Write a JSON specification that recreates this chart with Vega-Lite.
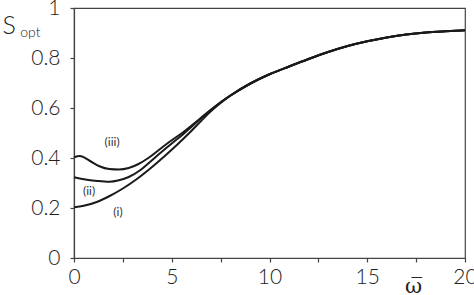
{
  "$schema": "https://vega.github.io/schema/vega-lite/v6.json",
  "width": 391,
  "height": 250,
  "autosize": "none",
  "padding": {"left": 74, "top": 8, "right": 9, "bottom": 37},
  "background": "white",
  "config": {
    "view": {"stroke": "#444", "strokeWidth": 1.2},
    "font": "Lato"
  },
  "data": {
    "values": [
      {"s": "iii", "x": 0, "y": 0.403},
      {"s": "iii", "x": 0.3, "y": 0.408},
      {"s": "iii", "x": 0.8, "y": 0.389},
      {"s": "iii", "x": 1.3, "y": 0.367},
      {"s": "iii", "x": 1.8, "y": 0.356},
      {"s": "iii", "x": 2.3, "y": 0.354},
      {"s": "iii", "x": 2.8, "y": 0.36},
      {"s": "iii", "x": 3.3, "y": 0.376},
      {"s": "iii", "x": 3.8, "y": 0.4},
      {"s": "iii", "x": 4.4, "y": 0.436},
      {"s": "iii", "x": 5, "y": 0.471},
      {"s": "iii", "x": 5.6, "y": 0.504},
      {"s": "iii", "x": 6, "y": 0.529},
      {"s": "iii", "x": 6.5, "y": 0.561},
      {"s": "iii", "x": 7, "y": 0.593},
      {"s": "iii", "x": 7.5, "y": 0.623},
      {"s": "iii", "x": 8, "y": 0.65},
      {"s": "iii", "x": 9, "y": 0.697},
      {"s": "iii", "x": 10, "y": 0.735},
      {"s": "iii", "x": 11, "y": 0.766},
      {"s": "iii", "x": 12, "y": 0.796},
      {"s": "iii", "x": 13, "y": 0.824},
      {"s": "iii", "x": 14, "y": 0.848},
      {"s": "iii", "x": 15, "y": 0.867},
      {"s": "iii", "x": 16, "y": 0.882},
      {"s": "iii", "x": 17, "y": 0.894},
      {"s": "iii", "x": 18, "y": 0.902},
      {"s": "iii", "x": 19, "y": 0.907},
      {"s": "iii", "x": 20, "y": 0.911},
      {"s": "ii", "x": 0, "y": 0.323},
      {"s": "ii", "x": 0.5, "y": 0.315},
      {"s": "ii", "x": 1.2, "y": 0.308},
      {"s": "ii", "x": 1.8, "y": 0.305},
      {"s": "ii", "x": 2.3, "y": 0.311},
      {"s": "ii", "x": 2.8, "y": 0.324},
      {"s": "ii", "x": 3.4, "y": 0.352},
      {"s": "ii", "x": 3.9, "y": 0.385},
      {"s": "ii", "x": 4.4, "y": 0.419},
      {"s": "ii", "x": 5, "y": 0.458},
      {"s": "ii", "x": 5.6, "y": 0.496},
      {"s": "ii", "x": 6, "y": 0.524},
      {"s": "ii", "x": 6.5, "y": 0.559},
      {"s": "ii", "x": 7, "y": 0.592},
      {"s": "ii", "x": 7.5, "y": 0.623},
      {"s": "ii", "x": 8, "y": 0.65},
      {"s": "ii", "x": 9, "y": 0.697},
      {"s": "ii", "x": 10, "y": 0.735},
      {"s": "ii", "x": 11, "y": 0.766},
      {"s": "ii", "x": 12, "y": 0.796},
      {"s": "ii", "x": 13, "y": 0.824},
      {"s": "ii", "x": 14, "y": 0.848},
      {"s": "ii", "x": 15, "y": 0.867},
      {"s": "ii", "x": 16, "y": 0.882},
      {"s": "ii", "x": 17, "y": 0.894},
      {"s": "ii", "x": 18, "y": 0.902},
      {"s": "ii", "x": 19, "y": 0.907},
      {"s": "ii", "x": 20, "y": 0.911},
      {"s": "i", "x": 0, "y": 0.203},
      {"s": "i", "x": 0.5, "y": 0.209},
      {"s": "i", "x": 1.2, "y": 0.225},
      {"s": "i", "x": 1.8, "y": 0.247},
      {"s": "i", "x": 2.5, "y": 0.278},
      {"s": "i", "x": 3.2, "y": 0.315},
      {"s": "i", "x": 3.9, "y": 0.358},
      {"s": "i", "x": 4.6, "y": 0.405},
      {"s": "i", "x": 5.3, "y": 0.455},
      {"s": "i", "x": 6, "y": 0.508},
      {"s": "i", "x": 6.5, "y": 0.548},
      {"s": "i", "x": 7, "y": 0.587},
      {"s": "i", "x": 7.5, "y": 0.62},
      {"s": "i", "x": 8, "y": 0.649},
      {"s": "i", "x": 9, "y": 0.697},
      {"s": "i", "x": 10, "y": 0.735},
      {"s": "i", "x": 11, "y": 0.766},
      {"s": "i", "x": 12, "y": 0.796},
      {"s": "i", "x": 13, "y": 0.824},
      {"s": "i", "x": 14, "y": 0.848},
      {"s": "i", "x": 15, "y": 0.867},
      {"s": "i", "x": 16, "y": 0.882},
      {"s": "i", "x": 17, "y": 0.894},
      {"s": "i", "x": 18, "y": 0.902},
      {"s": "i", "x": 19, "y": 0.907},
      {"s": "i", "x": 20, "y": 0.911}
    ]
  },
  "layer": [
    {
      "mark": {"type": "line", "color": "#1a1a1a", "strokeWidth": 2, "interpolate": "monotone"},
      "encoding": {
        "x": {
          "field": "x", "type": "quantitative",
          "scale": {"domain": [0, 20], "nice": false},
          "axis": {
            "values": [0, 2.5, 5, 7.5, 10, 12.5, 15, 17.5, 20],
            "labelExpr": "datum.value % 5 === 0 ? datum.label : ''",
            "grid": false,
            "domainColor": "#444", "domainWidth": 1.2,
            "tickColor": "#444", "tickSize": 4, "tickWidth": 1.2,
            "labelFont": "Lato", "labelFontWeight": 300, "labelFontSize": 21, "labelColor": "#222",
            "labelPadding": 4, "labelFlush": false,
            "title": "ω̅",
            "titleFont": "DejaVu Serif", "titleFontSize": 21, "titleFontWeight": "normal", "titleColor": "#222",
            "titleX": 339, "titleY": 34, "titleAlign": "center", "titleBaseline": "alphabetic"
          }
        },
        "y": {
          "field": "y", "type": "quantitative",
          "scale": {"domain": [0, 1], "nice": false},
          "axis": {
            "values": [0, 0.2, 0.4, 0.6, 0.8, 1],
            "format": ".1~f",
            "grid": false,
            "domainColor": "#444", "domainWidth": 1.2,
            "tickColor": "#444", "tickSize": 4, "tickWidth": 1.2,
            "labelFont": "Lato", "labelFontWeight": 300, "labelFontSize": 21, "labelColor": "#222",
            "labelPadding": 10,
            "title": "S",
            "titleFont": "Lato", "titleFontSize": 25, "titleFontWeight": 300, "titleColor": "#222",
            "titleAngle": 0, "titleX": -72, "titleY": 25, "titleAlign": "left", "titleBaseline": "alphabetic"
          }
        },
        "detail": {"field": "s", "type": "nominal"}
      }
    },
    {
      "data": {
        "values": [
          {"t": "(iii)", "x": 1.95, "y": 0.464},
          {"t": "(ii)", "x": 0.77, "y": 0.268},
          {"t": "(i)", "x": 2.25, "y": 0.184}
        ]
      },
      "mark": {"type": "text", "font": "Lato", "fontSize": 12, "color": "#333"},
      "encoding": {
        "x": {"field": "x", "type": "quantitative"},
        "y": {"field": "y", "type": "quantitative"},
        "text": {"field": "t"}
      }
    },
    {
      "data": {"values": [{"t": "opt", "x": -2.75, "y": 0.886}]},
      "mark": {"type": "text", "font": "Lato", "fontSize": 14, "fontWeight": 300, "color": "#222", "align": "left", "baseline": "alphabetic"},
      "encoding": {
        "x": {"field": "x", "type": "quantitative"},
        "y": {"field": "y", "type": "quantitative"},
        "text": {"field": "t"}
      }
    }
  ]
}
